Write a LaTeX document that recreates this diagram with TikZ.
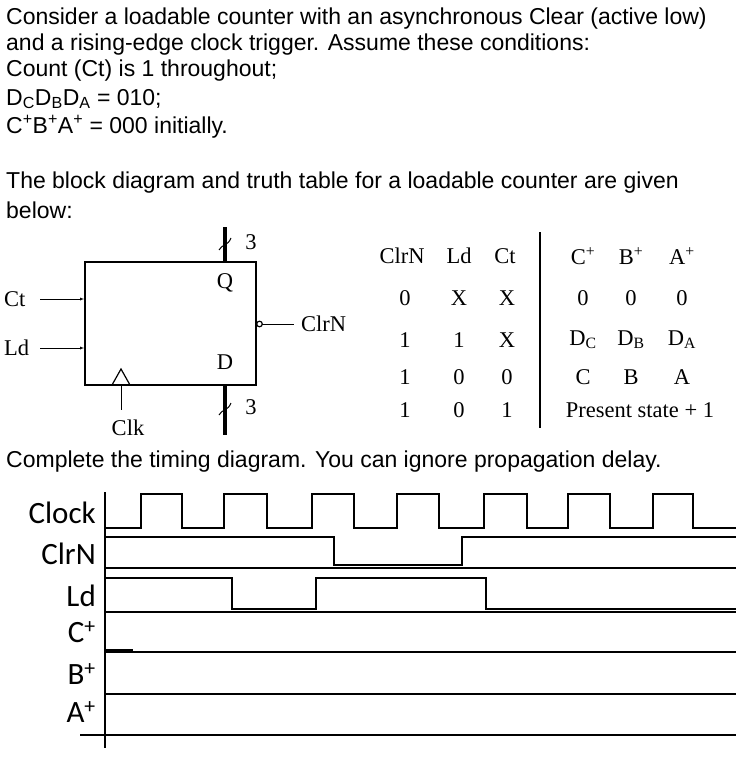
\documentclass[tikz,border=0pt]{standalone}
\usepackage{fontspec}
\setmainfont{Liberation Sans}
\newfontfamily\tms{Liberation Serif}
\newfontfamily\calfont{Carlito}
\begin{document}
\begin{tikzpicture}[x=1pt,y=-1pt,
 txt/.style={anchor=west,inner sep=0,font=\fontsize{23}{26}\selectfont},
 tm/.style={inner sep=0,font=\tms\fontsize{22.5}{25}\selectfont},
 lab/.style={anchor=east,inner sep=0,font=\calfont\fontsize{31}{33}\selectfont},
 sig/.style={line width=1.8pt},
 bus/.style={line width=3.5pt}]
\useasboundingbox (0,0) rectangle (753,757);
% top text
\node[txt] (t1) at (6,19) {Consider a loadable counter with an asynchronous Clear (active low)};
\node[txt] (t2) at (6,45) {and a rising-edge clock trigger. Assume these conditions:};
\node[txt] (t3) at (6,71) {Count (Ct) is 1 throughout;};
\node[txt] (t4) at (6,99) {D\textsubscript{C}D\textsubscript{B}D\textsubscript{A} = 010;};
\node[txt] (t5) at (6,127) {C\textsuperscript{+}B\textsuperscript{+}A\textsuperscript{+} = 000 initially.};
\node[txt] (t6) at (6,183) {The block diagram and truth table for a loadable counter are given};
\node[txt] (t7) at (6,210) {below:};
\node[txt] (t8) at (6,462) {Complete the timing diagram. You can ignore propagation delay.};
% block
\draw[line width=1.4pt] (85,262) rectangle (256,385);
\draw[bus] (225,227) -- (225,262);
\draw[bus] (225,385) -- (225,435);
\draw[line width=1pt] (219,250) .. controls (222,244) and (228,246) .. (231,238);
\draw[line width=1pt] (219,415) .. controls (222,409) and (228,411) .. (231,403);
\node[tm] (n3a) at (251,242) {3};
\node[tm] (n3b) at (251,407) {3};
\node[tm] (q) at (225,283) {Q};
\node[tm] (d) at (225,362) {D};
\draw[line width=1.2pt] (259.5,324) circle (2.8);
\draw[line width=1pt] (262.3,324) -- (294,324);
\node[tm,anchor=west] (clr) at (301,324) {ClrN};
\node[tm,anchor=west] (ct) at (4,299) {Ct};
\node[tm,anchor=west] (ld) at (4,348) {Ld};
\draw[-latex] (40,299) -- (84,299);
\draw[-latex] (40,348) -- (84,348);
\draw[line width=1.2pt] (112,385) -- (121,369) -- (130,385);
\draw (121,385) -- (121,410);
\node[tm] (clk) at (128,428) {Clk};
% table
\draw[line width=1.2pt] (540,232) -- (540,428);
\node[tm] (h1) at (402,256) {ClrN};
\node[tm] (h2) at (459,256) {Ld};
\node[tm] (h3) at (505,256) {Ct};
\node[tm] (h4) at (583,256) {C\textsuperscript{+}};
\node[tm] (h5) at (631,256) {B\textsuperscript{+}};
\node[tm] (h6) at (682,256) {A\textsuperscript{+}};
\foreach \y/\a/\b/\c in {298/0/X/X,340/1/1/X,377/1/0/0,410/1/0/1}{
 \node[tm] at (405,\y) {\a}; \node[tm] at (459,\y) {\b}; \node[tm] at (507,\y) {\c};}
\node[tm] (r1) at (583,298) {0}; \node[tm] at (631,298) {0}; \node[tm] at (682,298) {0};
\node[tm] (r2) at (583,340) {D\textsubscript{C}}; \node[tm] at (631,340) {D\textsubscript{B}}; \node[tm] at (682,340) {D\textsubscript{A}};
\node[tm] (r3) at (583,377) {C}; \node[tm] at (631,377) {B}; \node[tm] at (682,377) {A};
\node[tm] (r4) at (640,410) {Present state + 1};
% timing
\draw[sig] (105,492) -- (105,748);
\node[lab] (lc) at (96,513) {Clock};
\node[lab] (lr) at (96,554) {ClrN};
\node[lab] (ll) at (96,596) {Ld};
\node[lab] (l1) at (96,632) {C\textsuperscript{+}};
\node[lab] (l2) at (96,674) {B\textsuperscript{+}};
\node[lab] (l3) at (96,712) {A\textsuperscript{+}};
\draw[sig] (105,528) -- (141,528)
 \foreach \a/\b in {141/182,224/267,312/354,397/439,484/527,568/610,653/693}{ -- (\a,528) -- (\a,494) -- (\b,494) -- (\b,528)} -- (736,528);
\draw[sig] (105,537) -- (334,537) -- (334,565) -- (462,565) -- (462,537) -- (736,537);
\draw[sig] (105,568) -- (736,568);
\draw[sig] (105,578) -- (232,578) -- (232,609) -- (316,609) -- (316,578) -- (486,578) -- (486,609) -- (736,609);
\draw[sig] (105,612) -- (736,612);
\draw[line width=3pt] (105,650) -- (133,650);
\draw[sig] (105,652) -- (736,652);
\draw[sig] (105,694) -- (736,694);
\draw[sig] (80,735) -- (736,735);
\end{tikzpicture}
\end{document}
